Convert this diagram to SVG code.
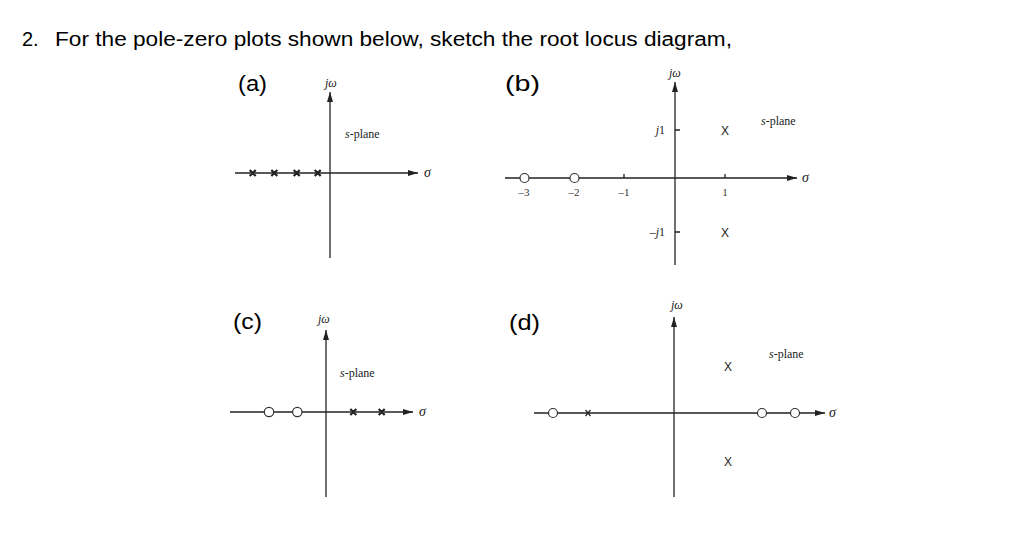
<svg xmlns="http://www.w3.org/2000/svg" width="1024" height="540" viewBox="0 0 1024 540">
<defs>
<marker id="arr" viewBox="0 0 10 6" refX="10" refY="3" markerWidth="10" markerHeight="6" markerUnits="userSpaceOnUse" orient="auto"><path d="M0,0 L10,3 L0,6 Z" fill="#222"/></marker>
</defs>
<style>
.ax{stroke:#222;stroke-width:1.3;fill:none}
.zero{stroke:#333;stroke-width:1.2;fill:#fff}
.bx{stroke:#222;stroke-width:2.2;fill:none}
.tx{stroke:#222;stroke-width:1.2;fill:none}
.title{font-family:"Liberation Sans",Arial,sans-serif;font-size:20px;fill:#000}
.lab{font-family:"Liberation Sans",Arial,sans-serif;font-size:22px;fill:#000}
.it{font-family:"Liberation Serif","Times New Roman",serif;font-style:italic;font-size:12px;fill:#222}
.sg{font-family:"Liberation Serif","Times New Roman",serif;font-style:italic;font-size:14px;fill:#222}
.sp{font-family:"Liberation Serif","Times New Roman",serif;font-size:12px;fill:#222}
.num{font-family:"Liberation Serif","Times New Roman",serif;font-size:11px;fill:#333;text-anchor:middle}
.xs{font-family:"Liberation Sans",Arial,sans-serif;font-size:12px;fill:#222;text-anchor:middle}
</style>
<rect width="1024" height="540" fill="#fff"/>
<text class="title" x="22" y="46">2.</text>
<text class="title" x="55" y="46" textLength="677" lengthAdjust="spacingAndGlyphs">For the pole-zero plots shown below, sketch the root locus diagram,</text>

<g id="plot-a">
<text class="lab" x="238" y="91" textLength="29" lengthAdjust="spacingAndGlyphs">(a)</text>
<g class="connectors">
<line class="ax" x1="330" y1="258" x2="330" y2="92" marker-end="url(#arr)"/>
<line class="ax" x1="235" y1="173" x2="418" y2="173" marker-end="url(#arr)"/>
</g>
<text class="it" x="325" y="87">jω</text>
<text class="sp" x="345" y="138"><tspan font-style="italic">s</tspan>-plane</text>
<text class="sg" x="424" y="177">σ</text>
<path class="bx" d="M249.7,170 l6,6 M255.7,170 l-6,6 M271.3,170 l6,6 M277.3,170 l-6,6 M293.7,170 l6,6 M299.7,170 l-6,6 M314.7,170 l6,6 M320.7,170 l-6,6"/>
</g>

<g id="plot-b">
<text class="lab" x="505" y="91" textLength="35" lengthAdjust="spacingAndGlyphs">(b)</text>
<g class="connectors">
<line class="ax" x1="675" y1="265" x2="675" y2="82" marker-end="url(#arr)"/>
<line class="ax" x1="505" y1="178" x2="797" y2="178" marker-end="url(#arr)"/>
<path class="ax" d="M675,130 h5 M675,232 h5 M624,178 v-4 M725,178 v-4"/>
</g>
<text class="it" x="669" y="77">jω</text>
<text class="sp" x="761" y="125" font-size="11"><tspan font-style="italic">s</tspan>-plane</text>
<text class="sg" x="802" y="182">σ</text>
<text class="sp" x="665" y="134" text-anchor="end" font-size="11"><tspan font-style="italic">j</tspan>1</text>
<text class="sp" x="665" y="236" text-anchor="end" font-size="11">–<tspan font-style="italic">j</tspan>1</text>
<circle class="zero" cx="524.5" cy="178" r="4.5"/>
<circle class="zero" cx="574.5" cy="178" r="4.5"/>
<text class="num" x="524" y="196">–3</text>
<text class="num" x="574" y="196">–2</text>
<text class="num" x="624" y="196">–1</text>
<text class="num" x="725" y="196">1</text>
<text class="xs" x="725" y="135">X</text>
<text class="xs" x="725" y="237">X</text>
</g>

<g id="plot-c">
<text class="lab" x="233" y="329" textLength="29" lengthAdjust="spacingAndGlyphs">(c)</text>
<g class="connectors">
<line class="ax" x1="326" y1="497" x2="326" y2="330" marker-end="url(#arr)"/>
<line class="ax" x1="230" y1="412" x2="413" y2="412" marker-end="url(#arr)"/>
</g>
<text class="it" x="318" y="323">jω</text>
<text class="sp" x="340" y="377"><tspan font-style="italic">s</tspan>-plane</text>
<text class="sg" x="419" y="416">σ</text>
<circle class="zero" cx="269" cy="412" r="4.7"/>
<circle class="zero" cx="297.3" cy="412" r="4.7"/>
<path class="bx" d="M350.3,409 l6,6 M356.3,409 l-6,6 M378.7,409 l6,6 M384.7,409 l-6,6"/>
</g>

<g id="plot-d">
<text class="lab" x="509" y="330" textLength="31" lengthAdjust="spacingAndGlyphs">(d)</text>
<g class="connectors">
<line class="ax" x1="674" y1="497" x2="674" y2="317" marker-end="url(#arr)"/>
<line class="ax" x1="534" y1="413" x2="825" y2="413" marker-end="url(#arr)"/>
</g>
<text class="it" x="671" y="309">jω</text>
<text class="sp" x="769" y="358" font-size="11"><tspan font-style="italic">s</tspan>-plane</text>
<text class="sg" x="829" y="417">σ</text>
<circle class="zero" cx="553" cy="413" r="4.5"/>
<circle class="zero" cx="762" cy="413" r="4.5"/>
<circle class="zero" cx="795" cy="413" r="4.5"/>
<path class="tx" d="M585.5,410 l5,6 M590.5,410 l-5,6"/>
<text class="xs" x="728" y="371">X</text>
<text class="xs" x="728" y="466">X</text>
</g>
</svg>
